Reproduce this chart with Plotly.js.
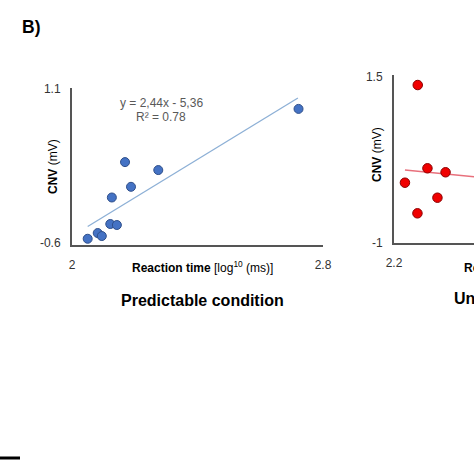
<!DOCTYPE html>
<html><head><meta charset="utf-8">
<script src="https://cdn.plot.ly/plotly-3.0.1.min.js"></script>
<style>html,body{margin:0;padding:0;background:#fff}#chart{width:474px;height:474px}</style>
</head><body><div id="chart"></div>
<script>
// Predictable condition
const predRT  = [2.050, 2.082, 2.095, 2.122, 2.143, 2.127, 2.169, 2.188, 2.275, 2.722];
const predCNV = [-0.556, -0.493, -0.526, -0.393, -0.404, -0.100, 0.291, 0.018, 0.203, 0.879];
const predFitX = [2.05, 2.72];
const predFitY = [-0.42, 1.0];
const predXTicks = [2, 2.8];
const predXLabels = ['2', '2.8'];
const predYTicks = [-0.6, 1.1];
const predYLabels = ['-0.6', '1.1'];
// Unpredictable condition
const unpRT  = [2.276, 2.307, 2.365, 2.235, 2.339, 2.275];
const unpCNV = [1.379, 0.125, 0.065, -0.092, -0.318, -0.553];
const unpFitX = [2.235, 2.60];
const unpFitY = [0.099, -0.068];
const unpXTicks = [2.2];
const unpXLabels = ['2.2'];
const unpYTicks = [-1, 1.5];
const unpYLabels = ['-1', '1.5'];

const W = 474, H = 474;
const px = x => x / W;
const py = y => 1 - y / H;
const FONT = '"Liberation Sans", Arial, sans-serif';

const traces = [
  {x: predFitX, y: predFitY, mode: 'lines', line: {color: '#8DB0D6', width: 1.3}, xaxis: 'x', yaxis: 'y', hoverinfo: 'skip'},
  {x: predRT, y: predCNV, mode: 'markers', marker: {size: 9, color: '#4472C4', line: {color: '#2F4F8A', width: 1}}, xaxis: 'x', yaxis: 'y'},
  {x: unpFitX, y: unpFitY, mode: 'lines', line: {color: '#E8707C', width: 1.3}, xaxis: 'x2', yaxis: 'y2', hoverinfo: 'skip'},
  {x: unpRT, y: unpCNV, mode: 'markers', marker: {size: 9.5, color: '#F00000', line: {color: '#8B0000', width: 1}}, xaxis: 'x2', yaxis: 'y2'}
];

const axBase = {showgrid: false, zeroline: false, showline: true, linecolor: '#555555', linewidth: 2,
  ticks: '', tickmode: 'array', tickfont: {family: FONT, size: 12, color: '#333333'}, fixedrange: true};

function ann(text, x, y, size, color, extra) {
  return Object.assign({text: text, x: px(x), y: py(y), xref: 'paper', yref: 'paper', showarrow: false,
    xanchor: 'center', yanchor: 'middle', font: {size: size, color: color}}, extra || {});
}

const layout = {
  width: W, height: H, margin: {l: 0, r: 0, t: 0, b: 0},
  paper_bgcolor: '#ffffff', plot_bgcolor: 'rgba(0,0,0,0)', showlegend: false,
  font: {family: FONT},
  xaxis: Object.assign({}, axBase, {domain: [px(72), px(323)], range: [2, 2.8], tickvals: predXTicks, ticktext: predXLabels, anchor: 'y', ticklabelstandoff: 8}),
  yaxis: Object.assign({}, axBase, {domain: [py(245), py(88)], range: [-0.625, 1.11], tickvals: predYTicks, ticktext: predYLabels, anchor: 'x', ticklabelstandoff: 7}),
  xaxis2: Object.assign({}, axBase, {domain: [px(394), 1], range: [2.2, 2.456], tickvals: unpXTicks, ticktext: unpXLabels, anchor: 'y2', ticklabelstandoff: 8}),
  yaxis2: Object.assign({}, axBase, {domain: [py(243), py(75)], range: [-1.0, 1.53], tickvals: unpYTicks, ticktext: unpYLabels, anchor: 'x2', ticklabelstandoff: 7}),
  annotations: [
    ann('<b>B)</b>', 31, 27, 17.5, '#000'),
    ann('y = 2,44x - 5,36', 161, 103, 12, '#595959'),
    ann('R² = 0.78', 161, 117, 12, '#595959'),
    ann('<b>CNV</b> (mV)', 53, 167, 12, '#000', {textangle: -90}),
    ann('<b>Reaction time</b> [log<sup>10</sup> (ms)]', 202, 267, 12, '#000'),
    ann('<b>Predictable condition</b>', 202, 300, 16, '#000'),
    ann('<b>CNV</b> (mV)', 377, 155, 12, '#000', {textangle: -90}),
    ann('<b>Reaction time</b> [log<sup>10</sup> (ms)]', 462, 267, 12, '#000', {xanchor: 'left'}),
    ann('<b>Unpredictable condition</b>', 452, 298, 16, '#000', {xanchor: 'left'})
  ],
  shapes: [
    {type: 'line', xref: 'paper', yref: 'paper', x0: 0, x1: px(20), y0: py(458), y1: py(458), line: {color: '#000', width: 3}}
  ]
};

Plotly.newPlot('chart', traces, layout, {staticPlot: true, displayModeBar: false});
</script>
</body></html>
